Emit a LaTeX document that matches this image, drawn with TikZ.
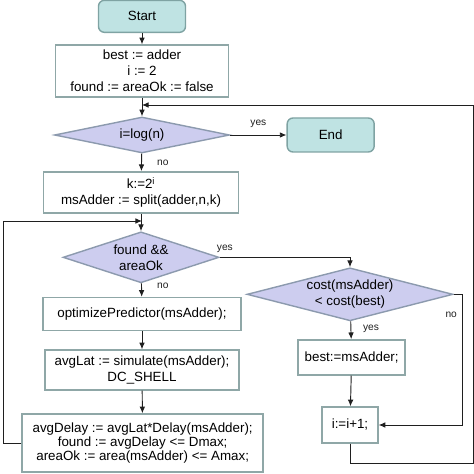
\documentclass[tikz,border=0pt]{standalone}
\usepackage{fontspec}
\setmainfont{Liberation Sans}
\usetikzlibrary{arrows.meta,shapes.geometric}
\usepackage{xcolor}
\definecolor{termfill}{HTML}{BFE3E3}
\definecolor{termline}{HTML}{7FA3A3}
\definecolor{boxline}{HTML}{8FA7A7}
\definecolor{decfill}{HTML}{CDCDEF}
\definecolor{decline}{HTML}{8C9AAE}
\definecolor{wire}{HTML}{1F1F1F}
\tikzset{
  term/.style ={rectangle, rounded corners=5pt, draw=termline, fill=termfill,
                line width=1.2pt, minimum width=2.61cm, minimum height=0.96cm,
                align=center, inner sep=1pt, font=\fontsize{11.4}{13.6}\selectfont},
  proc/.style ={rectangle, draw=boxline, fill=white, line width=1.2pt,
                align=center, inner sep=1pt, font=\fontsize{11.4}{13.6}\selectfont},
  dec/.style  ={diamond, aspect=3, draw=decline, fill=decfill, line width=1.2pt,
                align=center, inner sep=0pt, font=\fontsize{11.4}{13.6}\selectfont},
  flow/.style ={draw=wire, line width=0.8pt, -{Latex[length=2mm,width=1.7mm]}},
  lbl/.style  ={font=\fontsize{8.7}{10}\selectfont, text=wire, inner sep=1pt},
}

\begin{document}
\begin{tikzpicture}
\useasboundingbox (0,0) rectangle (14.22,14.22);

% ---------------- terminals ----------------
\node[term] (start) at (4.26,13.73) {Start};
\node[term, minimum height=1.02cm] (end) at (9.92,10.17) {End};

% ---------------- main column ----------------
\node[proc, minimum width=5.19cm, minimum height=1.56cm] (init) at (4.26,12.09)
      {best := adder\\i := 2\\found := areaOk := false};
\node[dec, minimum width=5.25cm, minimum height=1.08cm] (check) at (4.26,10.17) {i=log(n)};
\node[proc, minimum width=5.85cm, minimum height=1.23cm] (split) at (4.23, 8.45)
      {k:=2\textsuperscript{i}\\msAdder := split(adder,n,k)};
\node[dec, minimum width=4.68cm, minimum height=1.53cm] (found) at (4.23, 6.50) {found \&\&\\areaOk};
\node[proc, minimum width=5.94cm, minimum height=0.99cm] (opt) at (4.26, 4.80)
      {optimizePredictor(msAdder);};
\node[proc, minimum width=5.82cm, minimum height=1.20cm] (sim) at (4.26, 3.12)
      {avgLat := simulate(msAdder);\\DC\_SHELL};
\node[proc, minimum width=7.23cm, minimum height=1.74cm] (eval) at (4.28, 0.93)
      {avgDelay := avgLat*Delay(msAdder);\\[-2pt]found := avgDelay <= Dmax;\\[-2pt]areaOk := area(msAdder) <= Amax;};

% ---------------- right column ----------------
\node[dec, aspect=3.9, minimum width=6.18cm, minimum height=1.59cm] (cost) at (10.50, 5.39)
      {cost(msAdder)\\< cost(best)};
\node[proc, minimum width=3.21cm, minimum height=1.05cm] (upd) at (10.55, 3.50) {best:=msAdder;};
\node[proc, minimum width=1.68cm, minimum height=1.08cm] (incr) at (10.50, 1.47) {i:=i+1;};

% ---------------- loop corners ----------------
\coordinate (lloop)  at (0.09, 7.59);
\coordinate (lmerge) at (4.26, 7.59);
\coordinate (rbot)   at (14.19, 0.33);
\coordinate (rtop)   at (14.19,11.07);
\coordinate (rmerge) at (4.26,11.07);
\coordinate (nob)    at (13.86, 1.47);

% ---------------- flows ----------------
\draw[flow] (start) -- (init);
\draw[flow] (init) -- (check);
\draw[flow] (check) -- (end) node[lbl, midway, above, yshift=5pt] {yes};
\draw[flow] (check) -- (split) node[lbl, midway, right, xshift=12pt] {no};
\draw[flow] (split) -- (found);
\draw[flow] (found) -- (opt) node[lbl, pos=0.15, right, xshift=12pt] {no};
\draw[flow] (found.east) -| (cost.north) node[lbl, pos=0.02, above, yshift=3pt] {yes};
\draw[flow] (opt) -- (sim);
\draw[flow] (sim) -- (eval);
\draw[flow] (cost) -- (upd) node[lbl, pos=0.4, right, xshift=9pt] {yes};
\draw[flow] (cost.east) -| (nob) node[lbl, pos=0.58, left, xshift=-3pt] {no} -- (incr.east);
\draw[flow] (upd) -- (incr);

% ---------------- loops back ----------------
\draw[flow] (eval.west) -| (lloop) -- (lmerge);
\draw[flow] (incr.south) |- (rbot) -- (rtop) -- (rmerge);

\end{tikzpicture}
\end{document}
